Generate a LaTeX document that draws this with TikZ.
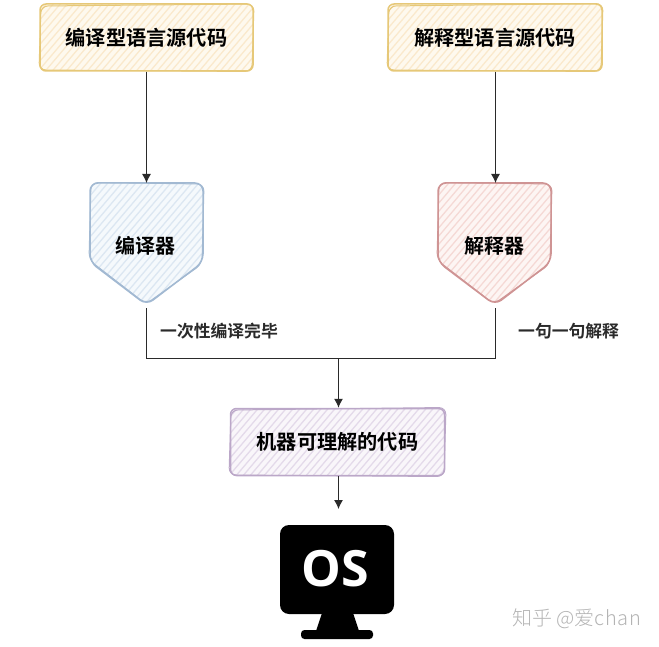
\documentclass[tikz,border=0pt]{standalone}
\usepackage{fontspec}
\setmainfont{Noto Sans CJK SC}[BoldFont={* Bold}]
\newfontfamily\cjkb{Noto Sans CJK SC Bold}
\newfontfamily\cjkl{Noto Sans CJK SC Light}
\newfontfamily\latinos{Open Sans}[BoldFont={* Bold}]
\usetikzlibrary{arrows.meta}
\definecolor{yelS}{HTML}{E6C878}\definecolor{yelF}{HTML}{FEF9EE}\definecolor{yelH}{HTML}{FAE9CC}
\definecolor{bluS}{HTML}{A2B9D2}\definecolor{bluF}{HTML}{F5F9FC}\definecolor{bluH}{HTML}{DCE7F2}
\definecolor{redS}{HTML}{CF9494}\definecolor{redF}{HTML}{FDF5F3}\definecolor{redH}{HTML}{F5D9D5}
\definecolor{purS}{HTML}{BBA7C8}\definecolor{purF}{HTML}{F9F6FA}\definecolor{purH}{HTML}{E4DAEA}
\definecolor{lineC}{HTML}{2A2A2A}\definecolor{markC}{HTML}{B4B4B4}
\tikzset{
  x=1pt,y=-1pt,
  sketchbox/.style n args={3}{draw=#1,fill=#2,line width=1.5pt,rounded corners=6pt,inner sep=0pt,
     minimum height=67pt,font=\cjkb\fontsize{20.2}{20}\selectfont,text=black,
     path picture={\begin{scope}[shift={(path picture bounding box.center)}]\draw[#3,line width=1.3pt] foreach \k in {-300,-293,...,300}{(\k,50)--(\k+85,-50)};\end{scope}}},
  sketchpent/.style n args={3}{draw=#1,fill=#2,line width=1.5pt,rounded corners=8pt,
     path picture={\begin{scope}[shift={(path picture bounding box.center)}]\draw[#3,line width=1.3pt] foreach \k in {-300,-293,...,300}{(\k,90)--(\k+153,-90)};\end{scope}}},
  sketchover/.style={draw=#1,line width=1pt,rounded corners=7pt},
  pentlabel/.style={font=\cjkb\fontsize{20}{20}\selectfont,text=black,inner sep=0pt},
  conn/.style={draw=lineC,line width=1pt},
  arrowconn/.style={conn,-{Latex[length=9pt,width=9pt]}},
  edgelabel/.style={font=\cjkb\fontsize{16.8}{17}\selectfont,text=lineC,inner sep=0pt,anchor=west},
  wmark/.style={font=\cjkl\fontsize{20}{20}\selectfont,text=markC,inner sep=0pt,anchor=west}
}
\begin{document}
\begin{tikzpicture}
\useasboundingbox (0,0) rectangle (659,647);
% top boxes
\node[sketchbox={yelS}{yelF}{yelH},minimum width=213pt] (src1) at (146.5,37.5) {编译型语言源代码};
\node[sketchbox={yelS}{yelF}{yelH},minimum width=214pt] (src2) at (495,37.5) {解释型语言源代码};
\path[sketchover=yelS] (41,6) -- (254,4) -- (252,71.5) -- (39,70) -- cycle;
\path[sketchover=yelS] (389,6) -- (603,3.5) -- (601,71.5) -- (387,70) -- cycle;
% pentagons
\path[sketchpent={bluS}{bluF}{bluH}] (90,183) -- (203,183) -- (203,262) -- (146.5,305) -- (90,262) -- cycle;
\path[sketchpent={redS}{redF}{redH}] (438,183) -- (551,183) -- (551,262) -- (495,305) -- (438,262) -- cycle;
\path[sketchover=bluS] (91,182.5) -- (204,184) -- (202,264) -- (146,304) -- (89,260) -- cycle;
\path[sketchover=redS] (439,182.5) -- (552,184) -- (550,264) -- (494,304) -- (437,260) -- cycle;
\node[pentlabel] (comp) at (145,246) {编译器};
\node[pentlabel] (interp) at (494,246) {解释器};
\coordinate (compT) at (146.5,183);
\coordinate (compB) at (146.5,308);
\coordinate (interpT) at (495.5,183);
\coordinate (interpB) at (495.5,308);
% target box
\node[sketchbox={purS}{purF}{purH},minimum width=214pt,minimum height=67pt] (code) at (337.5,442) {机器可理解的代码};
\path[sketchover=purS] (231,410) -- (446,407.5) -- (444,476.5) -- (229,475) -- cycle;
% connectors
\draw[arrowconn] (src1.south -| compT) -- (compT);
\draw[arrowconn] (src2.south -| interpT) -- (interpT);
\coordinate (joinL) at (146.5,358.5);
\coordinate (joinR) at (495.5,358.5);
\coordinate (joinM) at (338.5,358.5);
\draw[conn] (compB) -- (joinL) -- (joinR) -- (interpB);
\draw[arrowconn] (joinM) -- (code.north -| joinM);
\coordinate (osT) at (338.5,509);
\draw[arrowconn] (code.south -| osT) -- (osT);
% labels
\node[edgelabel] (lab1) at (160,331) {一次性编译完毕};
\node[edgelabel] (lab2) at (518,331) {一句一句解释};
% monitor
\fill[black,rounded corners=9pt] (280,525) rectangle (394,614);
\fill[black] (323,610) -- (352,610) -- (359,631) -- (316,631) -- cycle;
\fill[black,rounded corners=3.5pt] (301,630) rectangle (373,639);
\node[font=\latinos\bfseries\fontsize{50}{50}\selectfont,text=white,inner sep=0pt] (os) at (335.5,569) {OS};
% watermark
\node[wmark] (wm) at (512,619) {知乎 @爱{\addfontfeature{LetterSpace=3}chan}};
\end{tikzpicture}
\end{document}
